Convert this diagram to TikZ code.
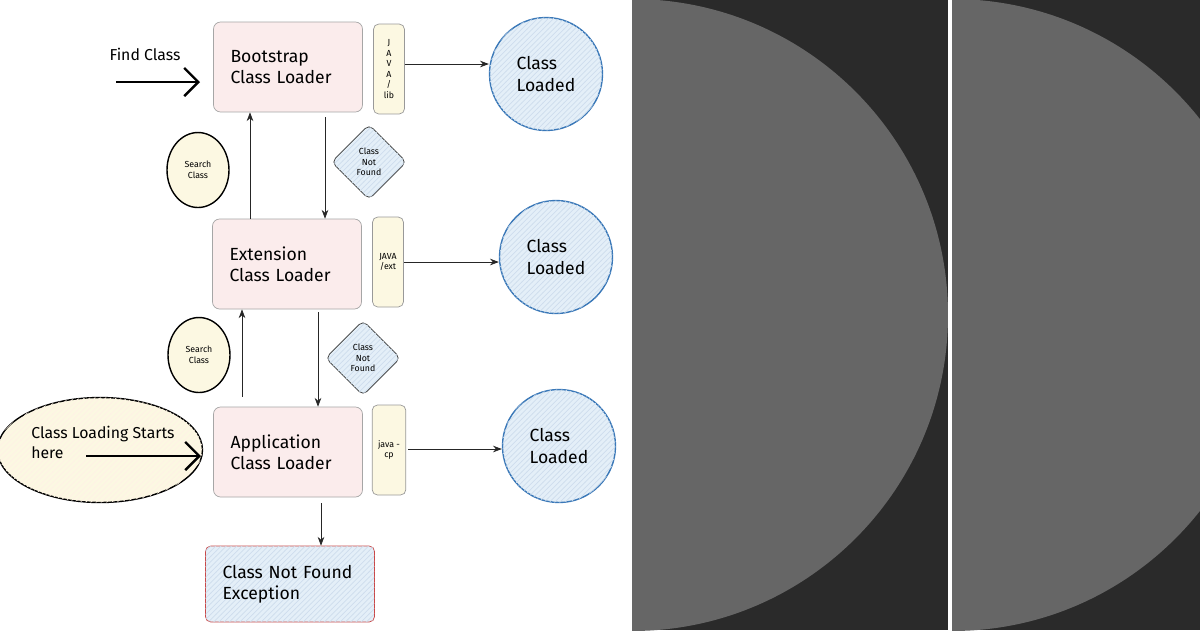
\documentclass[tikz,border=0pt]{standalone}
\usepackage{fontspec}
\setmainfont{Fira Sans}
\usetikzlibrary{shapes.geometric,arrows.meta,patterns}
\definecolor{pinkf}{HTML}{FBECEC}
\definecolor{yelf}{HTML}{FCF8E2}
\definecolor{bluef}{HTML}{E4EFF8}
\definecolor{blueb}{HTML}{3A78B8}
\definecolor{redb}{HTML}{C94848}
\definecolor{darkbg}{HTML}{2A2A2A}
\definecolor{halfc}{HTML}{666666}
\tikzset{
  loader/.style={draw=gray!70, rounded corners=4pt, fill=pinkf, minimum width=2.98cm, minimum height=1.8cm, align=left, font=\normalsize, text width=2.3cm},
  tag/.style={draw=gray!80, rounded corners=3pt, fill=yelf, minimum width=0.62cm, minimum height=1.8cm, align=center, font=\tiny},
  loaded/.style={circle, draw=blueb, thick, fill=bluef, minimum size=2.26cm, align=left, font=\normalsize, postaction={pattern=north east lines, pattern color=blueb!25}},
  search/.style={ellipse, draw=black, thick, fill=yelf, minimum width=1.24cm, minimum height=1.5cm, align=center, font=\tiny},
  notfound/.style={diamond, draw=black!80, fill=bluef, minimum width=1.5cm, minimum height=1.5cm, align=center, font=\tiny, inner sep=0pt, rounded corners=3pt, postaction={pattern=north east lines, pattern color=blueb!25}},
  arr/.style={-{Stealth[length=5pt]}, black!85},
  bigarr/.style={-{Straight Barb[length=8pt,width=16pt]}, line width=1.4pt},
}
\begin{document}
\begin{tikzpicture}[x=0.02cm,y=-0.02cm]
\useasboundingbox (0,0) rectangle (1200,630);
\fill[white] (0,0) rectangle (632,630);
\fill[darkbg] (632,0) rectangle (1200,630);
\begin{scope}
\clip (632,0) rectangle (948,630);
\fill[halfc] (632,315) circle[radius=316];
\end{scope}
\fill[white] (948,0) rectangle (952,630);
\begin{scope}
\clip (952,0) rectangle (1200,630);
\fill[halfc] (952,315) circle[radius=316];
\end{scope}

% Nodes
\node[loader] (boot) at (288,67) {Bootstrap\\Class Loader};
\node[tag] (tag1) at (389,69) {J\\A\\V\\A\\/\\lib};
\node[loaded] (cl1) at (546,74) {Class\\Loaded};
\node[font=\small] (find) at (145,54) {Find Class};
\coordinate (f1) at (116,82);
\coordinate (f2) at (200,82);

\node[search] (s1) at (198,170) {Search\\Class};
\node[notfound] (d1) at (369,162) {Class\\Not\\Found};

\node[loader] (ext) at (287,264) {Extension\\Class Loader};
\node[tag] (tag2) at (388,262) {JAVA\\/ext};
\node[loaded] (cl2) at (556,257) {Class\\Loaded};

\node[search] (s2) at (199,355) {Search\\Class};
\node[notfound] (d2) at (363,358) {Class\\Not\\Found};

\node[loader] (app) at (288,452) {Application\\Class Loader};
\node[tag] (tag3) at (389,450) {java -\\cp};
\node[loaded] (cl3) at (559,446) {Class\\Loaded};

\node[ellipse, draw=black, thick, fill=yelf, minimum width=4.1cm, minimum height=2.1cm,
  postaction={pattern=north east lines, pattern color=orange!10}] (start) at (100,450) {};
\node[font=\small, align=left, anchor=north west, inner sep=0pt] (starttxt) at (31,426) {Class Loading Starts\\here};
\coordinate (g1) at (86,456);
\coordinate (g2) at (201,456);

\node[draw=redb, rounded corners=3pt, fill=bluef, minimum width=3.38cm, minimum height=1.52cm, align=left, font=\normalsize, text width=2.7cm,
  postaction={pattern=north east lines, pattern color=blueb!25}] (exc) at (290,584) {Class Not Found\\Exception};

% Connectors
\draw[bigarr] (f1) -- (f2);
\draw[bigarr] (g1) -- (g2);
\draw[arr] (tag1.east |- 0,64) -- (cl1.west |- 0,64);
\draw[arr] (tag2) ++(16,0) -- (cl2.west |- tag2);
\draw[arr] (tag3) ++(19,-1) -- (cl3.west |- 0,449);
\draw[arr] (ext.north -| 250,0) -- (boot.south -| 250,0);
\draw[arr] (boot.south -| 325,0) ++(0,5) -- (ext.north -| 325,0);
\draw[arr] (app.north -| 242,0) ++(0,-10) -- (ext.south -| 242,0);
\draw[arr] (ext.south -| 318,0) ++(0,3) -- (app.north -| 318,0);
\draw[arr] (app.south -| 321,0) ++(0,6) -- (exc.north -| 321,0);
\end{tikzpicture}
\end{document}
